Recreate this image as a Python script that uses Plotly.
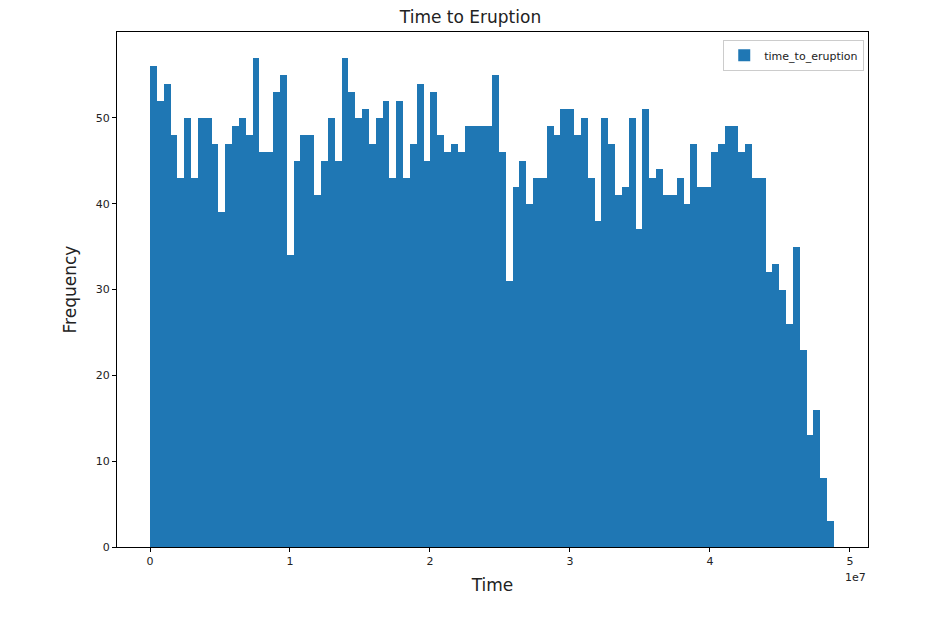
import plotly.graph_objects as go

counts = [56,52,54,48,43,50,43,50,50,47,
          39,47,49,50,48,57,46,46,53,55,
          34,45,48,48,41,45,50,45,57,53,
          50,51,47,50,52,43,52,43,47,54,
          45,53,48,46,47,46,49,49,49,49,
          55,46,31,42,45,40,43,43,49,48,
          51,51,48,50,43,38,50,47,41,42,
          50,37,51,43,44,41,41,43,40,47,
          42,42,46,47,49,49,46,47,43,43,
          32,33,30,26,35,23,13,16,8,3]
bin_start = 0.0
bin_width = 4.886e7 / 100
x_tick_vals = [0, 1e7, 2e7, 3e7, 4e7, 5e7]
x_tick_text = ["0", "1", "2", "3", "4", "5"]
y_tick_vals = [0, 10, 20, 30, 40, 50]

centers = [bin_start + (i + 0.5) * bin_width for i in range(len(counts))]

fig = go.Figure(go.Bar(x=centers, y=counts, width=bin_width, name="time_to_eruption",
                       marker=dict(color="#1f77b4", line=dict(width=0)), showlegend=True))
axis_common = dict(showline=True, linecolor="black", linewidth=1, mirror=True, showgrid=False,
                   zeroline=False, ticks="outside", ticklen=4, tickcolor="black",
                   tickfont=dict(size=11, color="#222"))
fig.update_layout(
    width=925, height=619, plot_bgcolor="white", paper_bgcolor="white",
    margin=dict(l=109, r=65, t=24, b=80),
    font=dict(family="DejaVu Sans", color="#222"),
    title=dict(text="Time to Eruption", x=0.5, xanchor="center", y=0.985, yanchor="middle",
               font=dict(size=17)),
    bargap=0,
    legend=dict(x=0.995, y=0.985, xanchor="right", yanchor="top", bordercolor="#ccc",
                borderwidth=1, font=dict(size=11)),
    xaxis=dict(range=[-2.357e6, 5.129e7], tickvals=x_tick_vals, ticktext=x_tick_text,
               title=dict(text="Time", font=dict(size=17), standoff=11), **axis_common),
    yaxis=dict(range=[0, 60.0], tickvals=y_tick_vals,
               title=dict(text="Frequency", font=dict(size=17), standoff=14), **axis_common),
)
fig.add_annotation(text="1e7", xref="paper", yref="paper", x=1.0, y=-0.06, xanchor="right",
                   yanchor="middle", showarrow=False, font=dict(size=11, color="#222"))
fig.write_html("out.html")
